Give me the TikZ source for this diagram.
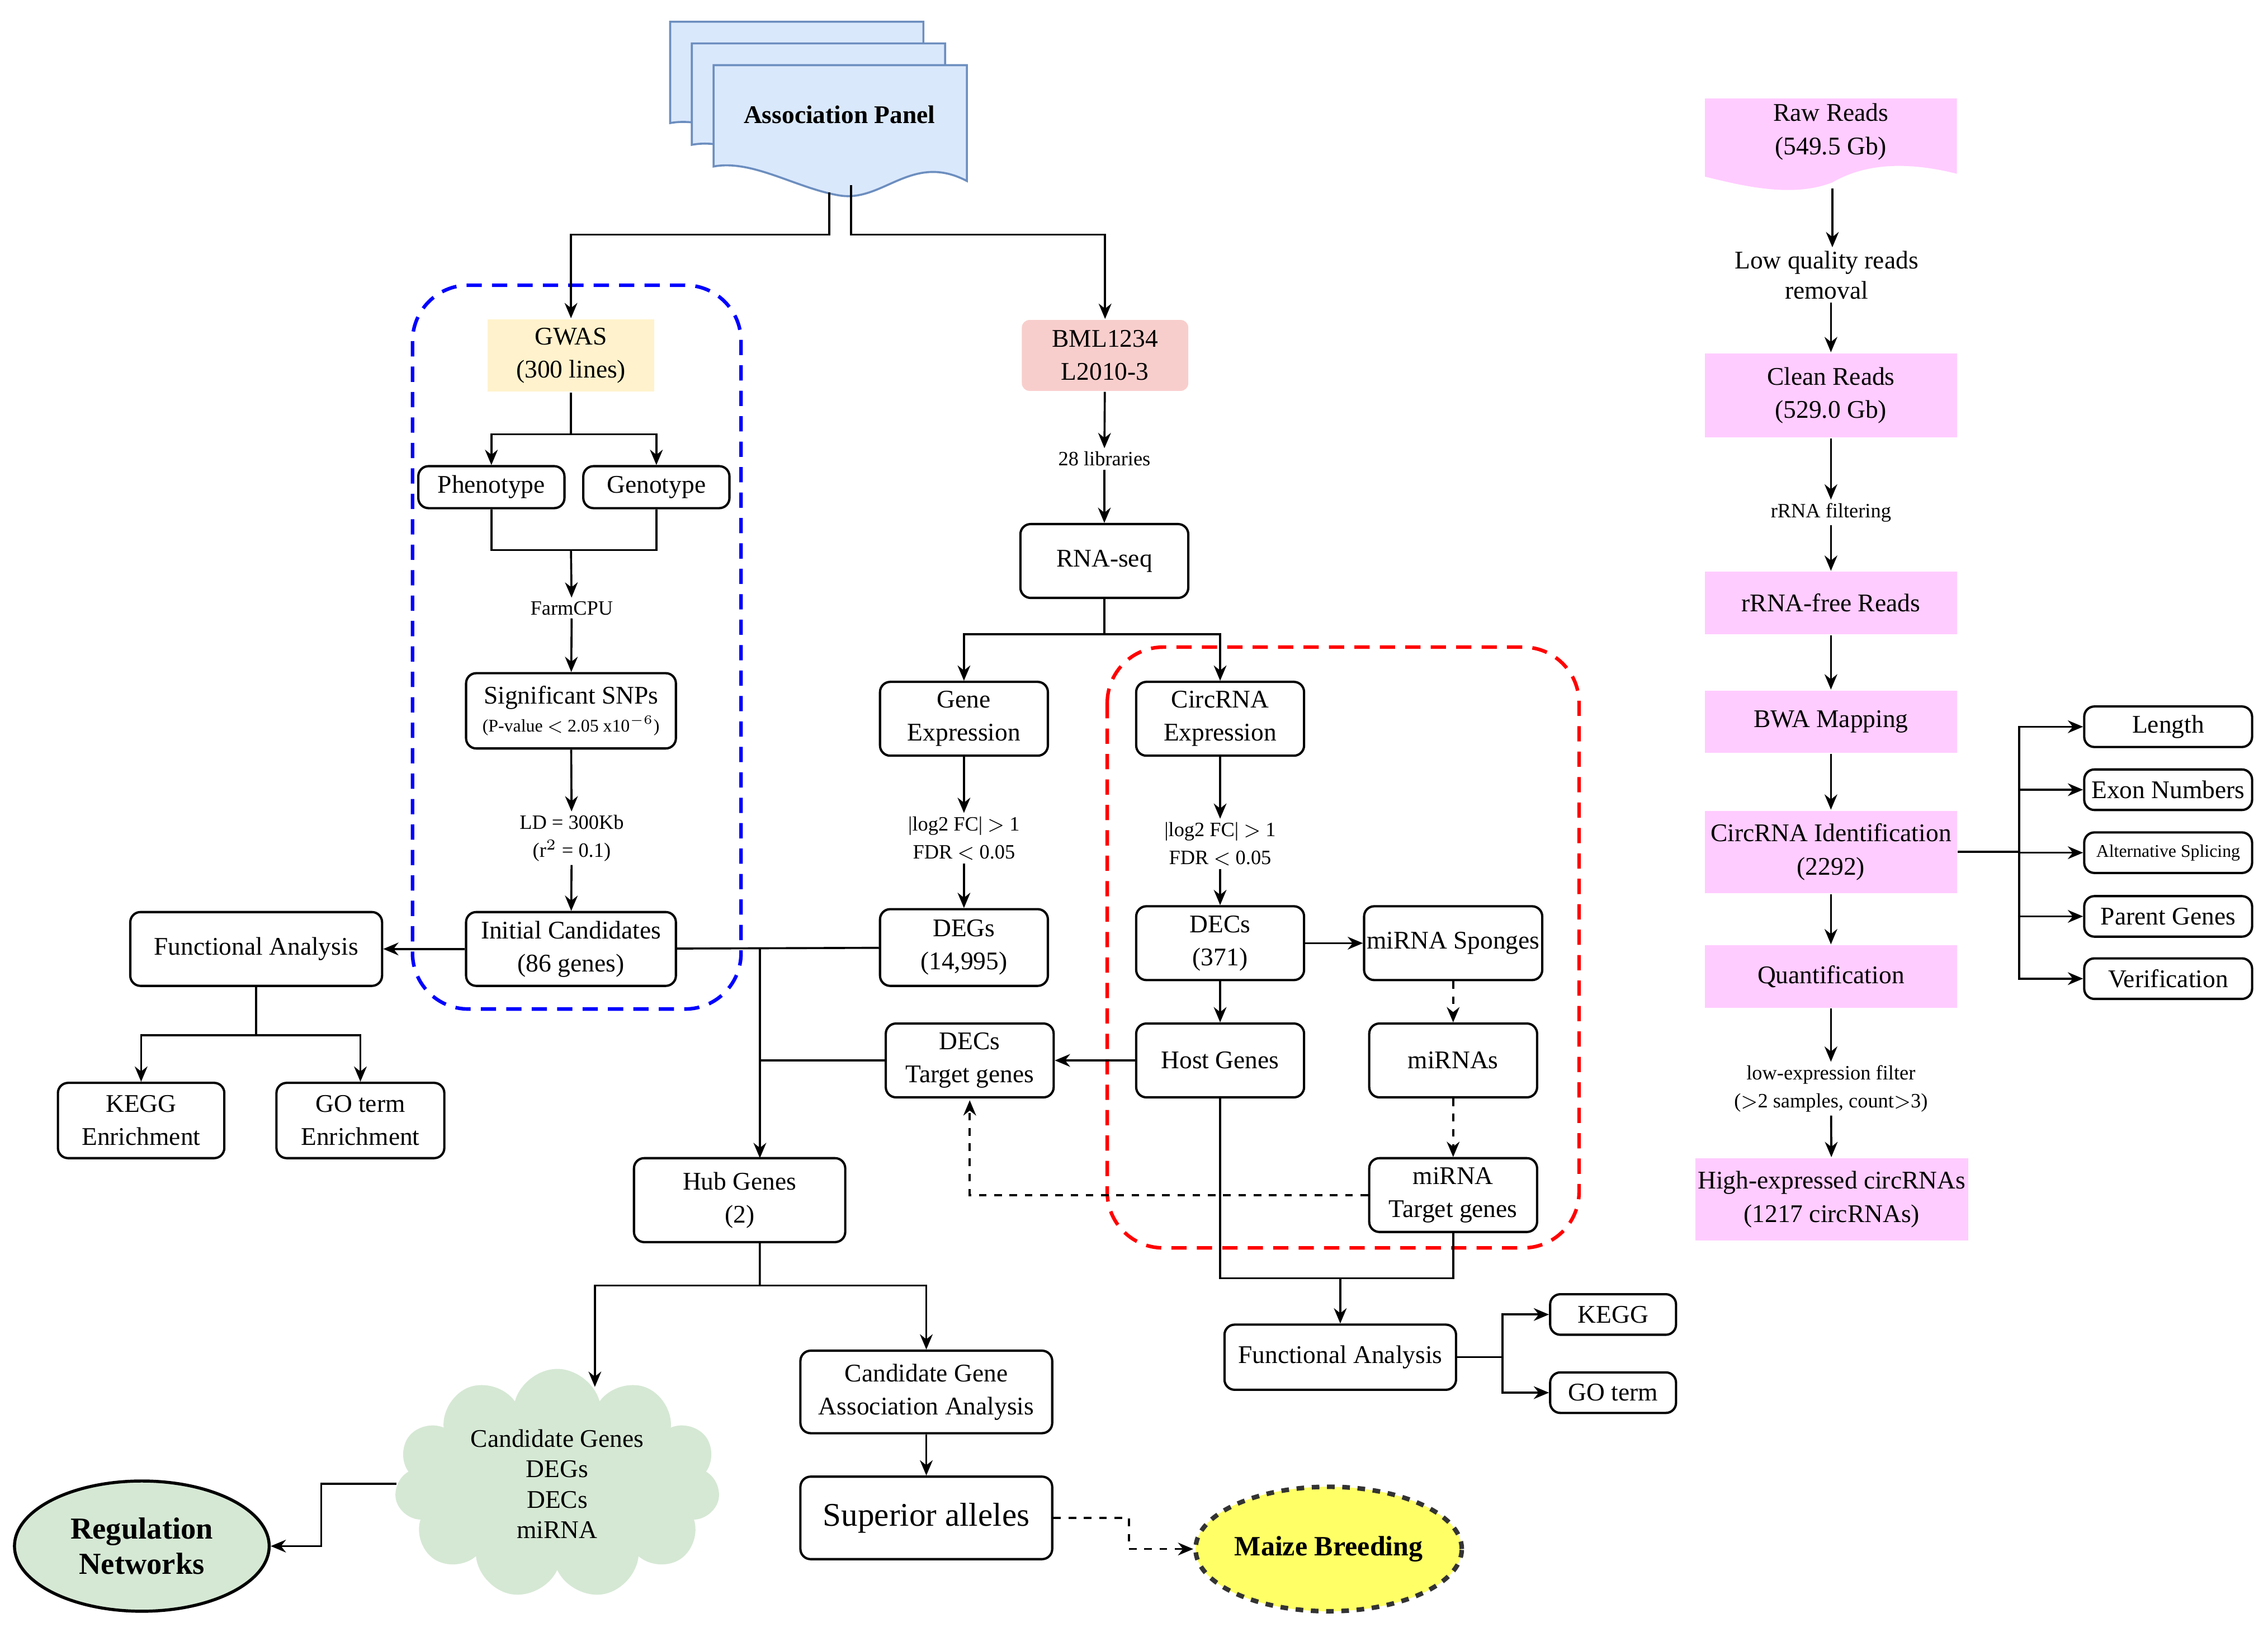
\documentclass[tikz,border=0pt]{standalone}
\usepackage{amsmath}
\usepackage{fontspec}
\setmainfont{Liberation Serif}
\usetikzlibrary{arrows.meta,shapes.symbols,shapes.geometric,positioning}

\tikzset{
  box/.style={draw=black, line width=0.9pt, rounded corners=4pt, fill=white, align=center, inner sep=1pt, font=\fontsize{10}{13}\selectfont},
  pinkbox/.style={fill=pink1, align=center, inner sep=1pt, minimum width=3.48cm, font=\fontsize{10}{13}\selectfont},
  lbl/.style={align=center, inner sep=1pt, fill=white, font=\fontsize{8}{11}\selectfont},
  grp/.style={dashed, line width=1.4pt, rounded corners=22pt, dash pattern=on 6pt off 4pt}
}
\definecolor{blue1}{HTML}{DAE8FC}
\definecolor{blue2}{HTML}{6C8EBF}
\definecolor{yellow1}{HTML}{FFF2CC}
\definecolor{red1}{HTML}{F8CECC}
\definecolor{pink1}{HTML}{FFCCFF}
\definecolor{green1}{HTML}{D5E8D4}
\definecolor{yellow2}{HTML}{FFFF66}

\begin{document}
\begin{tikzpicture}[x=0.02cm, y=-0.02cm, >={Stealth[length=6pt,width=5pt]}, line width=0.8pt]
        \useasboundingbox (0,0) rectangle (1567,1127);
        % GROUPS
        \draw[grp, draw=blue] (285,197) rectangle (512,697);
        \draw[grp, draw=red] (765,447) rectangle (1091,862);
        % ASSOCIATION PANEL
        \foreach \dx in {0,15,30} {
          \draw[blue2, fill=blue1, line width=0.8pt] (463+\dx,15+\dx) -- (638+\dx,15+\dx) -- (638+\dx,95+\dx)
            .. controls (600+\dx,75+\dx) and (580+\dx,110+\dx) .. (550+\dx,105+\dx)
            .. controls (520+\dx,100+\dx) and (490+\dx,80+\dx) .. (463+\dx,85+\dx) -- cycle;
        }
        \node[font=\fontsize{10}{12}\selectfont\bfseries] (ap) at (580,79) {Association Panel};
        \coordinate (apl) at (573,133);
        \coordinate (apr) at (588,128);

        % NODES (GWAS)
        \node[fill=yellow1, align=center, minimum width=2.3cm, minimum height=0.98cm, font=\fontsize{10}{13}\selectfont] (gwas) at (394.5,245.5) {GWAS\\(300 lines)};
        \node[box, minimum width=2.02cm, minimum height=0.58cm] (pheno) at (339.5,336.5) {Phenotype};
        \node[box, minimum width=2.02cm, minimum height=0.58cm] (geno) at (453.5,336.5) {Genotype};
        \node[lbl] (farm) at (395,420) {FarmCPU};
        \node[box, minimum width=2.9cm, minimum height=1.04cm] (snp) at (394.5,491) {Significant SNPs\\[-2pt]{\fontsize{7}{9}\selectfont (P-value $<$ 2.05 x10$^{-6}$)}};
        \node[lbl] (ld) at (395,579) {LD = 300Kb\\(r$^2$ = 0.1)};
        \node[box, minimum width=2.9cm, minimum height=1.02cm] (init) at (394.5,655.5) {Initial Candidates\\(86 genes)};
        \node[box, minimum width=3.48cm, minimum height=1.02cm] (func) at (177,655.5) {Functional Analysis};
        \node[box, minimum width=2.3cm, minimum height=1.04cm] (kegg) at (97.5,774) {KEGG\\Enrichment};
        \node[box, minimum width=2.32cm, minimum height=1.04cm] (go) at (249,774) {GO term\\Enrichment};

        % NODES (RNA-seq)
        \node[fill=red1, rounded corners=3pt, align=center, minimum width=2.3cm, minimum height=0.98cm, font=\fontsize{10}{13}\selectfont] (bml) at (763.5,245.5) {BML1234\\L2010-3};
        \node[lbl] (lib) at (763,317) {28 libraries};
        \node[box, minimum width=2.32cm, minimum height=1.02cm] (rna) at (763,387.5) {RNA-seq};
        \node[box, minimum width=2.32cm, minimum height=1.02cm] (gexp) at (666,496.5) {Gene\\Expression};
        \node[box, minimum width=2.32cm, minimum height=1.02cm] (cexp) at (843,496.5) {CircRNA\\Expression};
        \node[lbl] (gfc) at (666,579) {|log2 FC| $>$ 1\\FDR $<$ 0.05};
        \node[lbl] (cfc) at (843,583) {|log2 FC| $>$ 1\\FDR $<$ 0.05};
        \node[box, minimum width=2.32cm, minimum height=1.06cm] (degs) at (666,654.5) {DEGs\\(14,995)};
        \node[box, minimum width=2.32cm, minimum height=1.02cm] (decs) at (843,651.5) {DECs\\(371)};
        \node[box, minimum width=2.32cm, minimum height=1.02cm] (spong) at (1004,651.5) {miRNA Sponges};
        \node[box, minimum width=2.32cm, minimum height=1.02cm] (host) at (843,732.5) {Host Genes};
        \node[box, minimum width=2.32cm, minimum height=1.02cm] (dtar) at (670,732.5) {DECs\\Target genes};
        \node[box, minimum width=2.32cm, minimum height=1.02cm] (mirna) at (1004,732.5) {miRNAs};
        \node[box, minimum width=2.32cm, minimum height=1.02cm] (mtar) at (1004,825.5) {miRNA\\Target genes};
        \node[box, minimum width=3.2cm, minimum height=0.9cm] (func2) at (926,937.5) {Functional Analysis};
        \node[box, minimum width=1.74cm, minimum height=0.56cm] (kegg2) at (1114.5,908) {KEGG};
        \node[box, minimum width=1.74cm, minimum height=0.56cm] (go2) at (1114.5,962) {GO term};

        % NODES (bottom)
        \node[box, minimum width=2.92cm, minimum height=1.16cm] (hub) at (511,829) {Hub Genes\\(2)};
        \node[box, minimum width=3.48cm, minimum height=1.14cm] (cga) at (640,961.5) {Candidate Gene\\Association Analysis};
        \node[box, minimum width=3.48cm, minimum height=1.14cm, font=\fontsize{13}{15}\selectfont] (sup) at (640,1048.5) {Superior alleles};
        \node[ellipse, draw=black!80, dashed, line width=1.8pt, fill=yellow2, inner sep=0pt, minimum width=3.52cm, minimum height=1.72cm, font=\fontsize{11}{13}\selectfont\bfseries] (maize) at (918,1070) {Maize Breeding};
        \node[cloud, cloud puffs=11, aspect=1.5, fill=green1, align=center, minimum width=4.5cm, minimum height=3.1cm, font=\fontsize{10}{12}\selectfont] (cloud) at (385,1025) {Candidate Genes\\DEGs\\DECs\\miRNA};
        \node[ellipse, draw=black, line width=1.2pt, fill=green1, align=center, minimum width=3.52cm, minimum height=1.8cm, font=\fontsize{12}{14}\selectfont\bfseries] (reg) at (98,1068) {Regulation\\Networks};

        % NODES (circRNA pipeline)
        \fill[pink1] (1178,68) -- (1352,68) -- (1352,120) .. controls (1320,112) and (1290,112) .. (1266,126)
          .. controls (1240,136) and (1210,130) .. (1178,122) -- cycle;
        \node[align=center, font=\fontsize{10}{13}\selectfont] (raw) at (1265,91) {Raw Reads\\(549.5 Gb)};
        \coordinate (rawb) at (1266,130);
        \node[lbl, font=\fontsize{10}{12}\selectfont] (lowq) at (1262,190) {Low quality reads\\removal};
        \node[pinkbox, minimum height=1.16cm] (clean) at (1265,273) {Clean Reads\\(529.0 Gb)};
        \node[lbl] (rfilt) at (1265,354) {rRNA filtering};
        \node[pinkbox, minimum height=0.86cm] (rfree) at (1265,416.5) {rRNA-free Reads};
        \node[pinkbox, minimum height=0.86cm] (bwa) at (1265,498.5) {BWA Mapping};
        \node[pinkbox, minimum height=1.14cm] (cid) at (1265,588.5) {CircRNA Identification\\(2292)};
        \node[pinkbox, minimum height=0.86cm] (quant) at (1265,674.5) {Quantification};
        \node[lbl] (lowexp) at (1265,752) {low-expression filter\\($>$2 samples, count$>$3)};
        \node[pinkbox, minimum width=3.74cm, minimum height=1.14cm] (high) at (1265.5,828.5) {High-expressed circRNAs\\(1217 circRNAs)};
        \node[box, minimum width=2.32cm, minimum height=0.56cm] (len) at (1498,502) {Length};
        \node[box, minimum width=2.32cm, minimum height=0.56cm] (exon) at (1498,545.5) {Exon Numbers};
        \node[box, minimum width=2.32cm, minimum height=0.56cm, font=\fontsize{7}{9}\selectfont] (alt) at (1498,589) {Alternative Splicing};
        \node[box, minimum width=2.32cm, minimum height=0.56cm] (par) at (1498,633) {Parent Genes};
        \node[box, minimum width=2.32cm, minimum height=0.56cm] (ver) at (1498,676) {Verification};

        % ARROWS
        \draw[->] (apl) -- (573,162) -| (gwas);
        \draw[->] (apr) -- (588,162) -| (bml);
        \draw (gwas) -- (394.5,300);
        \draw[->] (394.5,300) -| (pheno);
        \draw[->] (394.5,300) -| (geno);
        \draw (pheno) |- (394.5,380);
        \draw (geno) |- (394.5,380);
        \draw[->] (394.5,380) -- (farm);
        \draw[->] (farm) -- (snp);
        \draw[->] (snp) -- (ld);
        \draw[->] (ld) -- (init);
        \draw[->] (init) -- (func);
        \draw (init) -- (degs);
        \draw[->] (525,655.5) -- (525,800);
        \draw (dtar) -- (525,732.5);
        \draw (func) -- (177,715);
        \draw[->] (177,715) -| (kegg);
        \draw[->] (177,715) -| (go);
        \draw[->] (bml) -- (lib);
        \draw[->] (lib) -- (rna);
        \draw (rna) -- (763,438);
        \draw[->] (763,438) -| (gexp);
        \draw[->] (763,438) -| (cexp);
        \draw[->] (gexp) -- (gfc);
        \draw[->] (gfc) -- (degs);
        \draw[->] (cexp) -- (cfc);
        \draw[->] (cfc) -- (decs);
        \draw[->] (decs) -- (spong);
        \draw[->] (decs) -- (host);
        \draw[->] (host) -- (dtar);
        \draw[->, dashed] (spong) -- (mirna);
        \draw[->, dashed] (mirna) -- (mtar);
        \draw[->, dashed] (mtar) -| (670,760);
        \draw (host) |- (926,883);
        \draw (mtar) |- (926,883);
        \draw[->] (926,883) -- (func2);
        \draw (func2) -- (1038,937.5);
        \draw[->] (1038,937.5) |- (kegg2);
        \draw[->] (1038,937.5) |- (go2);
        \draw ([xshift=0.28cm]hub.south) -- (525,888);
        \draw[->] (525,888) -| (411,958);
        \draw[->] (525,888) -| (cga);
        \draw[->] (cga) -- (sup);
        \draw[->, dashed] (sup) -- (780,1048.5) |- (maize);
        \draw[->] (cloud.west) -| (222,1068) -- (reg);
        \draw[->] (rawb) -- (rawb |- lowq.north);
        \draw[->] (lowq.south -| clean) -- (clean);
        \draw[->] (clean) -- (rfilt);
        \draw[->] (rfilt) -- (rfree);
        \draw[->] (rfree) -- (bwa);
        \draw[->] (bwa) -- (cid);
        \draw[->] (cid) -- (quant);
        \draw[->] (quant) -- (lowexp);
        \draw[->] (lowexp) -- (high);
        \draw (cid) -- (1395,588.5);
        \foreach \n in {len,exon,alt,par,ver} {
          \draw[->] (1395,588.5) |- (\n);
        }
\end{tikzpicture}
\end{document}
